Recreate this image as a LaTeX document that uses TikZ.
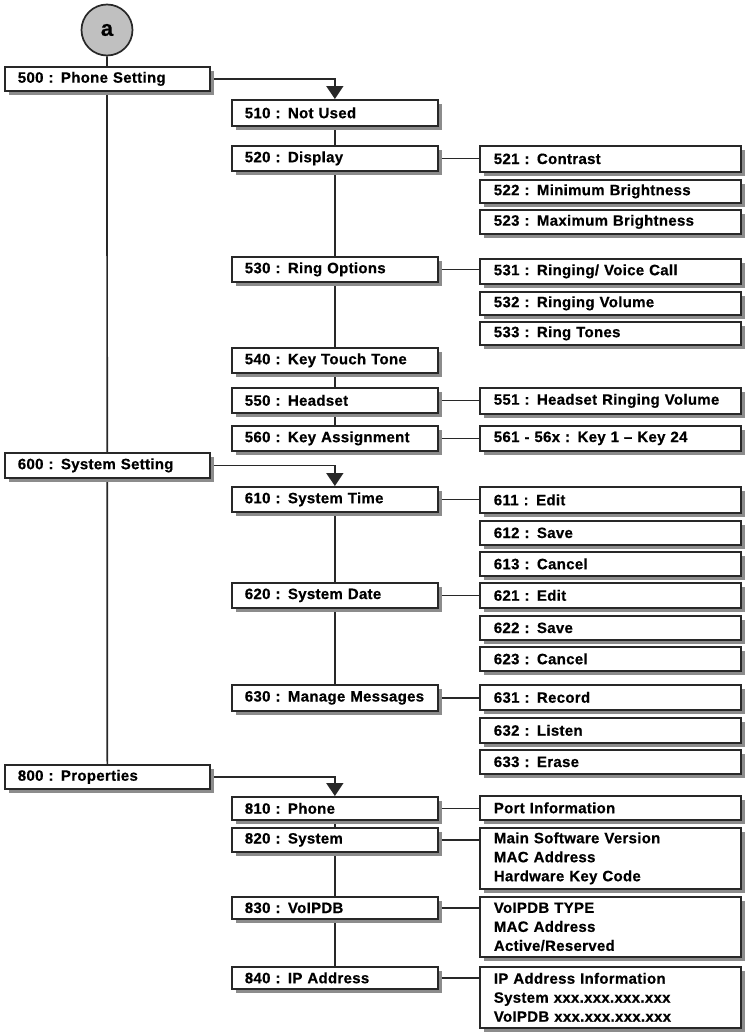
\documentclass[tikz,border=0pt]{standalone}
\usepackage{fontspec}
\setmainfont{Liberation Sans}[LetterSpace=2, BoldFeatures={FakeBold=0.6}]
\usetikzlibrary{shadows,arrows.meta,backgrounds}
\pgfdeclarelayer{back}
\pgfsetlayers{back,background,main}
\definecolor{linec}{RGB}{40,40,40}
\definecolor{shadowc}{RGB}{140,140,140}
\definecolor{circc}{RGB}{192,192,192}
\newcommand\boxfont{\fontsize{15}{19}\selectfont\bfseries}
\tikzset{
  basebox/.style={draw=linec, line width=1.7pt, fill=white, anchor=north west,
    inner ysep=0pt, align=left, font=\boxfont,
    drop shadow={shadow xshift=4pt, shadow yshift=-4pt, fill=shadowc, opacity=1}},
  lbox/.style={basebox, inner xsep=13pt, text width=179pt, minimum height=#1},
  lbox/.default=25pt,
  mbox/.style={basebox, inner xsep=13pt, text width=180pt, minimum height=#1},
  mbox/.default=25pt,
  rbox/.style={basebox, inner xsep=14pt, text width=233pt, minimum height=#1},
  rbox/.default=25pt,
  conn/.style={draw=linec, line width=1.7pt},
  arr/.style={conn, -{Triangle[width=17pt,length=13pt]}},
}
\begin{document}
\begin{tikzpicture}[x=1pt,y=-1pt]
\begin{pgfonlayer}{back}
\fill[white] (0,0) rectangle (745,1036);
\end{pgfonlayer}
\useasboundingbox (0,0) rectangle (745,1036);

\node[circle, draw=linec, line width=1.7pt, fill=circc, minimum size=51pt, inner sep=0pt,
  font=\fontsize{22}{22}\selectfont\bfseries] (a) at (107,30) {a};

% left column
\node[lbox=24pt] (b500) at (4,66) {500 : Phone Setting};
\node[lbox=25pt] (b600) at (4,452) {600 : System Setting};
\node[lbox=24pt] (b800) at (4,764) {800 : Properties};

% middle column
\node[mbox=26pt] (b510) at (231,99) {510 : Not Used};
\node[mbox=25pt] (b520) at (231,145) {520 : Display};
\node[mbox=25pt] (b530) at (231,256) {530 : Ring Options};
\node[mbox=25pt] (b540) at (231,347) {540 : Key Touch Tone};
\node[mbox=25pt] (b550) at (231,387) {550 : Headset};
\node[mbox=25pt] (b560) at (231,425) {560 : Key Assignment};
\node[mbox=25pt] (b610) at (231,486) {610 : System Time};
\node[mbox=25pt] (b620) at (231,582) {620 : System Date};
\node[mbox=26pt] (b630) at (231,684) {630 : Manage Messages};
\node[mbox=23pt] (b810) at (231,796) {810 : Phone};
\node[mbox=24pt] (b820) at (231,827) {820 : System};
\node[mbox=22pt] (b830) at (231,896) {830 : VoIPDB};
\node[mbox=22pt] (b840) at (231,966) {840 : IP Address};

% right column
\node[rbox=26pt] (r521) at (479,145) {521 : Contrast};
\node[rbox=23pt] (r522) at (479,179) {522 : Minimum Brightness};
\node[rbox=24pt] (r523) at (479,209) {523 : Maximum Brightness};
\node[rbox=25pt] (r531) at (479,258) {531 : Ringing/ Voice Call};
\node[rbox=23pt] (r532) at (479,291) {532 : Ringing Volume};
\node[rbox=23pt] (r533) at (479,321) {533 : Ring Tones};
\node[rbox=26pt] (r551) at (479,387) {551 : Headset Ringing Volume};
\node[rbox=25pt] (r561) at (479,425) {561 - 56x : Key 1 -- Key 24};
\node[rbox=26pt] (r611) at (479,486) {611 : Edit};
\node[rbox=24pt] (r612) at (479,520) {612 : Save};
\node[rbox=24pt] (r613) at (479,551) {613 : Cancel};
\node[rbox=25pt] (r621) at (479,582) {621 : Edit};
\node[rbox=24pt] (r622) at (479,615) {622 : Save};
\node[rbox=24pt] (r623) at (479,646) {623 : Cancel};
\node[rbox=25pt] (r631) at (479,684) {631 : Record};
\node[rbox=25pt] (r632) at (479,717) {632 : Listen};
\node[rbox=24pt] (r633) at (479,749) {633 : Erase};
\node[rbox=24pt] (rport) at (479,795) {Port Information};
\node[rbox=61pt] (rsys) at (479,827) {Main Software Version\\MAC Address\\Hardware Key Code};
\node[rbox=60pt] (rvoip) at (479,896) {VoIPDB TYPE\\MAC Address\\Active/Reserved};
\node[rbox=61pt] (rip) at (479,966) {IP Address Information\\System xxx.xxx.xxx.xxx\\VoIPDB xxx.xxx.xxx.xxx};

\begin{pgfonlayer}{background}
\draw[conn] (a.south) -- (b800.north);
\draw[arr] (b500.east) -| (b510.north);
\draw[arr] (b600.east) -| (b610.north);
\draw[arr] (b800.east) -| (b810.north);
\draw[conn] (b510.south) -- (b560.north);
\draw[conn] (b610.south) -- (b630.north);
\draw[conn] (b810.south) -- (b840.north);
\foreach \m/\r in {b520/r521, b530/r531, b550/r551, b560/r561, b610/r611, b620/r621, b630/r631, b810/rport, b820/rsys, b830/rvoip, b840/rip}
  \draw[conn] (\m.east) -- (\m.east -| \r.west);
\end{pgfonlayer}
\end{tikzpicture}
\end{document}
